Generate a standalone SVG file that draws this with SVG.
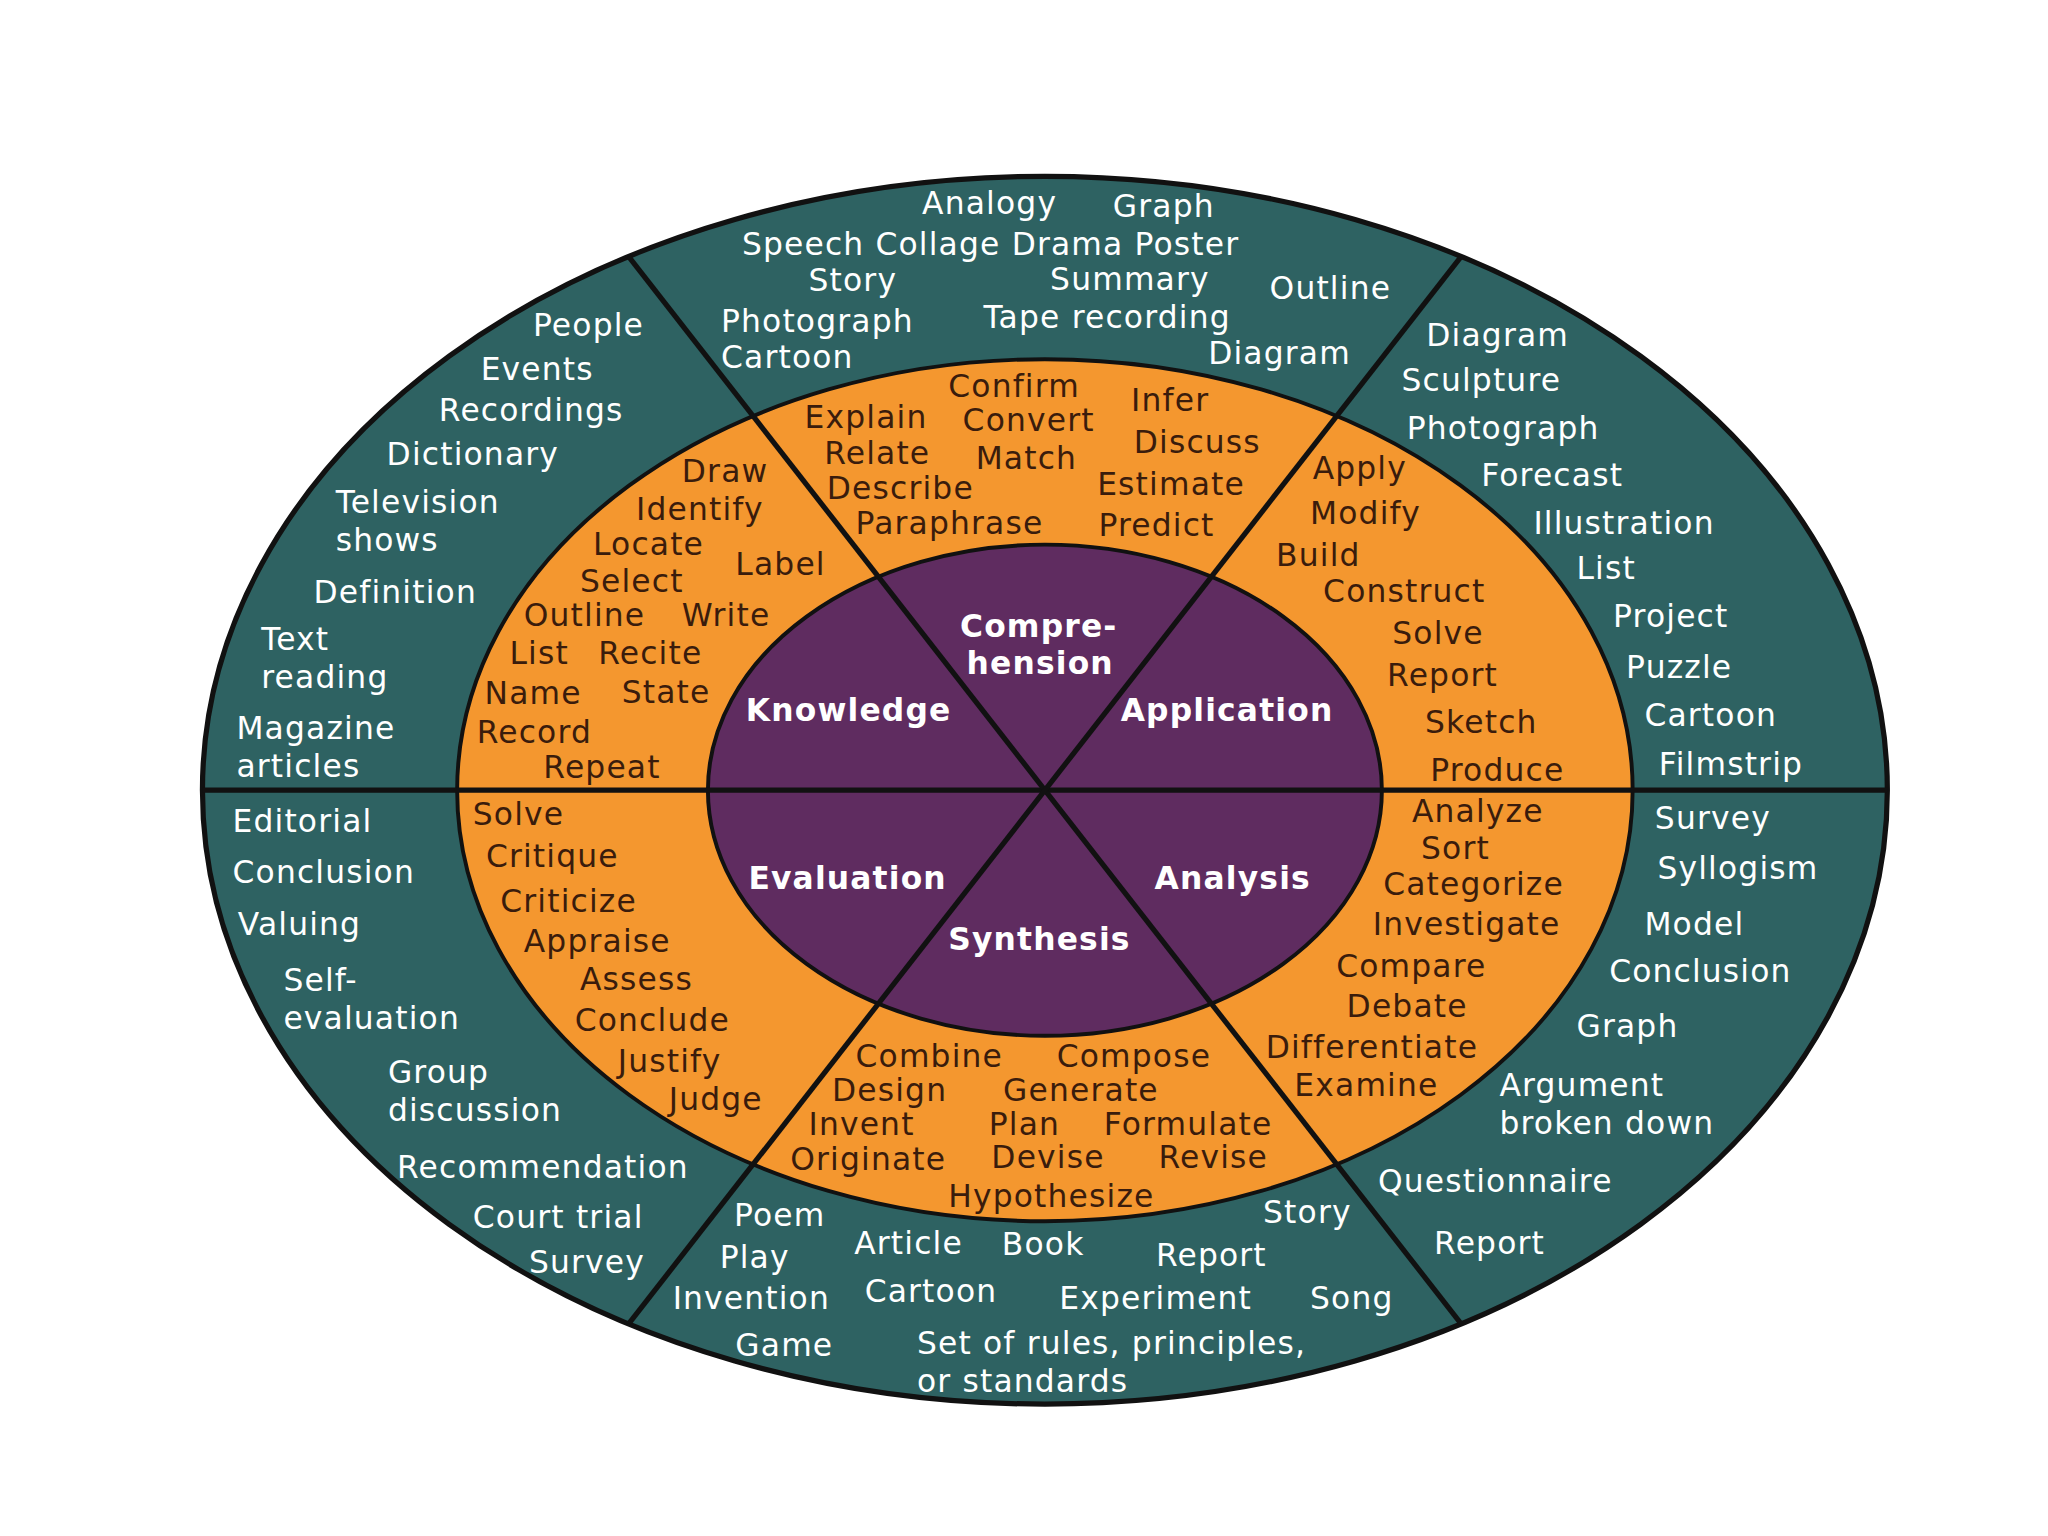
<svg xmlns="http://www.w3.org/2000/svg" width="2048" height="1536" viewBox="0 0 2048 1536">
<style>
text{font-family:"DejaVu Sans","Liberation Sans",sans-serif;font-size:24px;letter-spacing:0.9px}
.w{fill:#fff}
.o{fill:#3a1c0c}
.p{fill:#fff;font-weight:bold}
</style>
<defs><clipPath id="c"><ellipse cx="800" cy="605" rx="645" ry="470"/></clipPath></defs>
<rect width="2048" height="1536" fill="#fff"/>
<g transform="scale(1.30612)">
<g id="rings">
<ellipse cx="800" cy="605" rx="645" ry="470" fill="#2e6262" stroke="#111" stroke-width="4"/>
<ellipse cx="800" cy="605" rx="450" ry="330" fill="#f4972f" stroke="#111" stroke-width="3"/>
<ellipse cx="800" cy="605" rx="258" ry="188" fill="#5f2c60" stroke="#111" stroke-width="3"/>
</g>
<g id="connectors" clip-path="url(#c)" stroke="#111" stroke-width="4">
<line x1="100" y1="605" x2="1500" y2="605"/>
<line x1="410" y1="105" x2="1190" y2="1105"/>
<line x1="1190" y1="105" x2="410" y2="1105"/>
</g>
<g id="purple">
<text class="p" x="735" y="488">Compre-</text><text class="p" x="740" y="516">hension</text>
<text class="p" x="571" y="552">Knowledge</text><text class="p" x="858" y="552">Application</text>
<text class="p" x="573" y="681">Evaluation</text><text class="p" x="884" y="681">Analysis</text>
<text class="p" x="726" y="727">Synthesis</text>
</g>
<g id="orange">
<text class="o" x="522" y="369">Draw</text><text class="o" x="487" y="398">Identify</text><text class="o" x="454" y="425">Locate</text><text class="o" x="563" y="440">Label</text><text class="o" x="444" y="453">Select</text><text class="o" x="401" y="479">Outline</text><text class="o" x="522" y="479">Write</text><text class="o" x="390" y="508">List</text><text class="o" x="458" y="508">Recite</text><text class="o" x="371" y="539">Name</text><text class="o" x="476" y="538">State</text><text class="o" x="365" y="569">Record</text><text class="o" x="416" y="596">Repeat</text>
<text class="o" x="726" y="304">Confirm</text><text class="o" x="866" y="315">Infer</text><text class="o" x="616" y="328">Explain</text><text class="o" x="737" y="330">Convert</text><text class="o" x="868" y="347">Discuss</text><text class="o" x="631" y="355">Relate</text><text class="o" x="747" y="359">Match</text><text class="o" x="633" y="382">Describe</text><text class="o" x="840" y="379">Estimate</text><text class="o" x="655" y="409">Paraphrase</text><text class="o" x="841" y="410">Predict</text>
<text class="o" x="1005" y="367">Apply</text><text class="o" x="1003" y="401">Modify</text><text class="o" x="977" y="433">Build</text><text class="o" x="1013" y="461">Construct</text><text class="o" x="1066" y="493">Solve</text><text class="o" x="1062" y="525">Report</text><text class="o" x="1091" y="561">Sketch</text><text class="o" x="1095" y="598">Produce</text>
<text class="o" x="362" y="632">Solve</text><text class="o" x="372" y="664">Critique</text><text class="o" x="383" y="698">Criticize</text><text class="o" x="401" y="729">Appraise</text><text class="o" x="444" y="758">Assess</text><text class="o" x="440" y="789">Conclude</text><text class="o" x="473" y="821">Justify</text><text class="o" x="512" y="850">Judge</text>
<text class="o" x="1081" y="629">Analyze</text><text class="o" x="1088" y="658">Sort</text><text class="o" x="1059" y="685">Categorize</text><text class="o" x="1051" y="716">Investigate</text><text class="o" x="1023" y="748">Compare</text><text class="o" x="1031" y="779">Debate</text><text class="o" x="969" y="810">Differentiate</text><text class="o" x="991" y="839">Examine</text>
<text class="o" x="655" y="817">Combine</text><text class="o" x="809" y="817">Compose</text><text class="o" x="637" y="843">Design</text><text class="o" x="768" y="843">Generate</text><text class="o" x="619" y="869">Invent</text><text class="o" x="757" y="869">Plan</text><text class="o" x="845" y="869">Formulate</text><text class="o" x="605" y="896">Originate</text><text class="o" x="759" y="894">Devise</text><text class="o" x="887" y="894">Revise</text><text class="o" x="726" y="924">Hypothesize</text>
</g>
<g id="teal">
<text class="w" x="706" y="164">Analogy</text><text class="w" x="852" y="166">Graph</text><text class="w" x="568" y="195">Speech Collage Drama Poster</text><text class="w" x="619" y="223">Story</text><text class="w" x="804" y="222">Summary</text><text class="w" x="972" y="229">Outline</text><text class="w" x="552" y="254">Photograph</text><text class="w" x="753" y="251">Tape recording</text><text class="w" x="552" y="282">Cartoon</text><text class="w" x="925" y="279">Diagram</text>
<text class="w" x="408" y="257">People</text><text class="w" x="368" y="291">Events</text><text class="w" x="336" y="322">Recordings</text><text class="w" x="296" y="356">Dictionary</text><text class="w" x="257" y="393">Television</text><text class="w" x="257" y="422">shows</text><text class="w" x="240" y="462">Definition</text><text class="w" x="200" y="498">Text</text><text class="w" x="200" y="527">reading</text><text class="w" x="181" y="566">Magazine</text><text class="w" x="181" y="595">articles</text>
<text class="w" x="1092" y="265">Diagram</text><text class="w" x="1073" y="299">Sculpture</text><text class="w" x="1077" y="336">Photograph</text><text class="w" x="1134" y="372">Forecast</text><text class="w" x="1174" y="409">Illustration</text><text class="w" x="1207" y="443">List</text><text class="w" x="1235" y="480">Project</text><text class="w" x="1245" y="519">Puzzle</text><text class="w" x="1259" y="556">Cartoon</text><text class="w" x="1270" y="593">Filmstrip</text>
<text class="w" x="178" y="637">Editorial</text><text class="w" x="178" y="676">Conclusion</text><text class="w" x="182" y="716">Valuing</text><text class="w" x="217" y="759">Self-</text><text class="w" x="217" y="788">evaluation</text><text class="w" x="297" y="829">Group</text><text class="w" x="297" y="858">discussion</text><text class="w" x="304" y="902">Recommendation</text><text class="w" x="362" y="940">Court trial</text><text class="w" x="405" y="975">Survey</text>
<text class="w" x="1267" y="635">Survey</text><text class="w" x="1269" y="673">Syllogism</text><text class="w" x="1259" y="716">Model</text><text class="w" x="1232" y="752">Conclusion</text><text class="w" x="1207" y="794">Graph</text><text class="w" x="1148" y="839">Argument</text><text class="w" x="1148" y="868">broken down</text><text class="w" x="1055" y="913">Questionnaire</text><text class="w" x="1098" y="960">Report</text>
<text class="w" x="562" y="939">Poem</text><text class="w" x="967" y="936">Story</text><text class="w" x="654" y="960">Article</text><text class="w" x="767" y="961">Book</text><text class="w" x="551" y="971">Play</text><text class="w" x="885" y="969">Report</text><text class="w" x="515" y="1002">Invention</text><text class="w" x="662" y="997">Cartoon</text><text class="w" x="811" y="1002">Experiment</text><text class="w" x="1003" y="1002">Song</text><text class="w" x="563" y="1038">Game</text><text class="w" x="702" y="1037">Set of rules,  principles,</text><text class="w" x="702" y="1066">or standards</text>
</g>
</g>
</svg>
